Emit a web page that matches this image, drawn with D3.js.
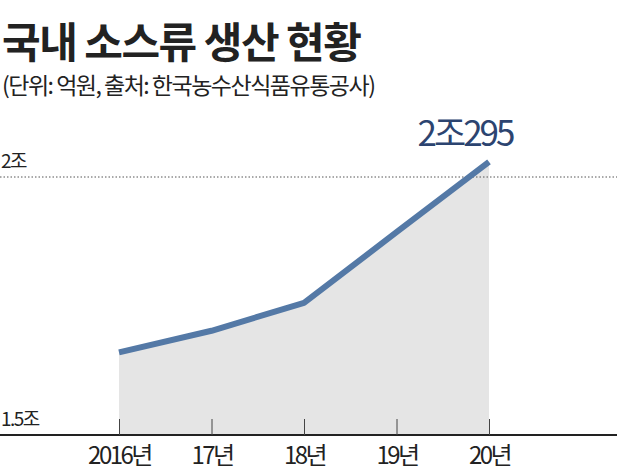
<!DOCTYPE html>
<html><head><meta charset="utf-8">
<script src="https://cdn.jsdelivr.net/npm/d3@7"></script>
<style>body{margin:0;background:#fff}text{font-family:"Noto Sans CJK KR",sans-serif}</style>
</head><body><svg id="c" width="617" height="472"></svg>
<script>
const years = ['2016년', '17년', '18년', '19년', '20년'];
const values = [16600, 17020, 17560, 18930, 20295];
const yTicks = [15000, 20000];
const yTickLabels = ['1.5조', '2조'];

const svg = d3.select('#c');
const x = d3.scalePoint().domain(years).range([119, 489]);
const y = d3.scaleLinear().domain([15000, 20000]).range([435, 177]);

svg.append('text').attr('x', 2).attr('y', 58).attr('font-size', 42).attr('font-weight', 'bold')
	.attr('fill', '#222').attr('letter-spacing', -1.5).text('국내 소스류 생산 현황');
svg.append('text').attr('x', 2).attr('y', 94).attr('font-size', 23).attr('fill', '#222')
	.attr('letter-spacing', -1.5).text('(단위: 억원, 출처: 한국농수산식품유통공사)');

const data = years.map((d, i) => ({ year: d, value: values[i] }));
svg.append('path').datum(data)
	.attr('fill', '#e5e5e5')
	.attr('d', d3.area().x(d => x(d.year)).y0(y(15000)).y1(d => y(d.value)));

// dotted 2조 line
svg.append('line').attr('x1', 0).attr('x2', 617).attr('y1', y(20000)).attr('y2', y(20000))
	.attr('stroke', '#555').attr('stroke-dasharray', '1.5,2');

svg.append('path').datum(data)
	.attr('fill', 'none').attr('stroke', '#5479a6').attr('stroke-width', 6).attr('stroke-linejoin', 'round')
	.attr('d', d3.line().x(d => x(d.year)).y(d => y(d.value)));

svg.selectAll('.yl').data(yTicks).join('text')
	.attr('x', 1).attr('y', d => y(d) - 9).attr('font-size', 19).attr('fill', '#222')
	.attr('letter-spacing', -1.5).text((d, i) => yTickLabels[i]);

const axis = svg.append('g').attr('transform', `translate(0,${y(15000)})`)
	.call(d3.axisBottom(x).tickSize(-16).tickPadding(10).tickSizeOuter(0));
axis.select('.domain').attr('d', 'M0,0H617').attr('stroke', '#222').attr('stroke-width', 2);
axis.selectAll('.tick line').attr('stroke', '#444');
axis.selectAll('.tick text').attr('font-size', 24).attr('fill', '#222').attr('dy', '0.8em')
	.attr('letter-spacing', -2.5);

svg.append('text').attr('x', x('20년') - 24).attr('y', 146).attr('text-anchor', 'middle')
	.attr('font-size', 35).attr('fill', '#2c4470').attr('letter-spacing', -3)
	.text('2조295');
</script></body></html>
